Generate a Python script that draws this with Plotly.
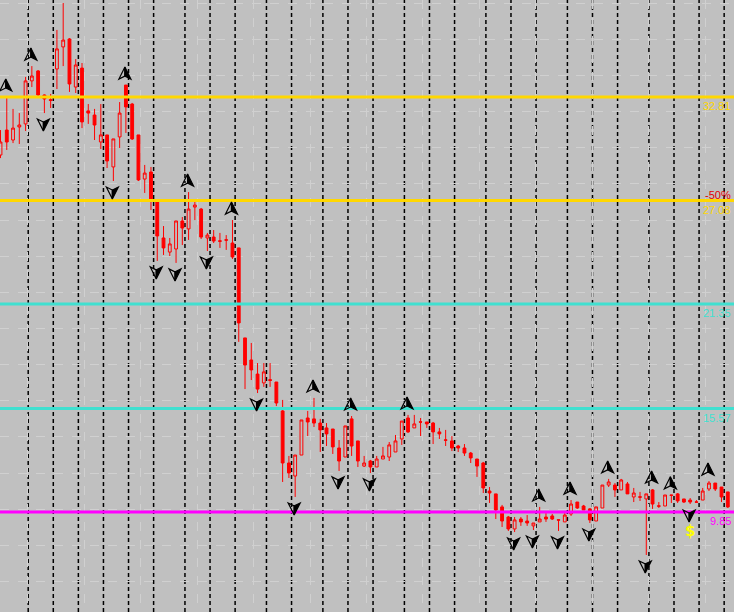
import plotly.graph_objects as go

# ---------------- data ----------------
bars = list(range(117))

opens = [29.60, 30.98, 30.43, 31.15, 31.32, 33.70, 34.25, 32.92, 32.66, 34.36,
         35.58, 36.02, 33.36, 34.41, 32.04, 31.81, 30.32, 30.71, 28.94, 30.60,
         33.47, 32.42, 30.71, 28.27, 28.66, 27.00, 25.01, 24.23, 24.40, 25.95,
         25.51, 26.72, 26.61, 25.01, 25.06, 24.85, 24.91, 24.73, 24.46, 19.48,
         18.26, 17.48, 16.99, 17.17, 17.04, 15.44, 12.56, 11.84, 13.00, 15.05,
         15.00, 14.77, 14.50, 14.44, 13.39, 12.89, 15.00, 13.78, 12.39, 12.67,
         12.34, 12.78, 12.89, 13.17, 13.89, 15.05, 14.50, 14.84, 14.83, 14.77,
         14.28, 13.84, 13.78, 13.50, 13.39, 13.11, 12.78, 12.56, 11.01, 10.85,
         10.13, 9.57, 8.91, 9.46, 9.35, 9.08, 9.30, 9.57, 9.63, 9.42,
         9.30, 9.74, 10.40, 10.18, 10.02, 9.35, 10.07, 11.34, 11.34, 11.07,
         11.40, 10.68, 10.69, 10.57, 11.07, 10.19, 10.18, 10.79, 10.85, 10.57,
         10.51, 10.41, 10.51, 11.12, 11.45, 11.23, 10.96]
highs = [30.98, 32.81, 32.15, 31.92, 33.92, 34.52, 34.30, 32.95, 32.98, 36.52,
         38.01, 36.07, 34.91, 34.69, 32.42, 32.15, 32.42, 30.71, 30.49, 32.53,
         33.47, 32.48, 30.71, 29.05, 28.94, 27.00, 25.67, 25.01, 25.95, 26.17,
         27.55, 27.00, 26.67, 25.29, 25.45, 25.29, 25.17, 26.00, 24.46, 19.48,
         19.20, 18.09, 18.09, 18.09, 17.04, 16.05, 12.95, 13.00, 14.94, 15.44,
         16.16, 15.00, 14.77, 14.44, 13.83, 14.61, 15.16, 13.78, 12.95, 12.73,
         12.95, 13.45, 13.72, 14.11, 14.88, 15.22, 15.22, 15.05, 14.83, 14.83,
         14.50, 14.39, 14.05, 13.56, 13.61, 13.17, 12.78, 12.62, 11.23, 10.85,
         10.24, 9.63, 9.57, 9.57, 9.68, 9.24, 10.13, 9.79, 9.74, 9.43,
         9.79, 10.51, 10.40, 10.24, 10.07, 10.13, 11.34, 11.68, 11.45, 11.68,
         11.51, 11.18, 10.96, 10.85, 11.12, 10.40, 10.79, 10.80, 10.90, 10.57,
         10.62, 10.51, 11.18, 11.56, 11.45, 11.23, 10.96]
lows = [29.43, 29.88, 30.26, 30.21, 30.93, 33.36, 32.81, 31.92, 32.20, 33.25,
        34.52, 33.09, 33.03, 31.09, 31.32, 30.43, 29.93, 28.88, 28.16, 29.99,
        30.82, 30.43, 28.16, 27.50, 26.56, 23.74, 24.07, 24.01, 23.63, 24.62,
        24.90, 26.00, 24.95, 24.29, 24.73, 24.46, 24.35, 23.85, 19.26, 16.65,
        17.15, 16.43, 16.77, 16.77, 15.71, 11.51, 11.73, 10.68, 13.00, 14.05,
        14.55, 13.17, 13.50, 13.06, 12.12, 12.89, 12.95, 12.34, 12.34, 12.01,
        12.34, 12.78, 12.67, 13.17, 13.56, 14.22, 14.50, 14.05, 14.50, 13.61,
        13.89, 13.50, 13.22, 13.17, 12.95, 12.56, 11.79, 10.90, 10.35, 9.46,
        9.02, 8.80, 8.74, 9.08, 9.08, 8.85, 9.30, 9.30, 9.41, 8.80,
        9.30, 9.63, 10.02, 9.96, 9.24, 9.35, 10.07, 11.23, 10.68, 11.07,
        10.85, 10.40, 10.46, 7.47, 10.02, 10.07, 10.18, 10.35, 10.35, 10.35,
        10.29, 10.35, 10.51, 11.01, 11.01, 10.40, 10.07]
closes = [30.32, 30.32, 31.09, 31.26, 33.70, 33.97, 32.92, 32.70, 32.62, 35.47,
          35.96, 33.53, 34.58, 31.43, 31.92, 31.26, 30.71, 29.27, 30.49, 31.92,
          32.26, 30.49, 28.22, 28.60, 27.11, 25.12, 24.46, 24.68, 25.95, 25.56,
          26.61, 26.83, 25.06, 25.17, 24.84, 24.83, 24.89, 23.96, 20.31, 17.98,
          17.71, 16.65, 17.60, 17.13, 15.88, 12.56, 12.01, 13.00, 14.94, 14.83,
          14.77, 14.39, 14.17, 13.45, 12.67, 14.61, 13.50, 12.67, 12.56, 12.34,
          12.78, 12.95, 13.56, 13.78, 14.88, 14.28, 14.72, 14.82, 14.72, 14.28,
          14.17, 13.82, 13.39, 13.39, 13.11, 12.84, 12.39, 11.18, 10.90, 9.96,
          9.35, 8.91, 9.41, 9.30, 9.24, 9.24, 9.46, 9.46, 9.46, 9.40,
          9.68, 10.29, 10.07, 9.96, 9.41, 10.13, 11.34, 11.51, 11.07, 11.62,
          10.85, 10.90, 10.67, 10.85, 10.29, 10.17, 10.79, 10.77, 10.46, 10.40,
          10.40, 10.39, 11.01, 11.45, 11.12, 10.68, 10.13]

up_fractal_bars = [1, 5, 20, 30, 37, 50, 56, 65, 86, 91, 97, 104, 107, 113]
down_fractal_bars = [7, 18, 25, 28, 33, 41, 47, 54, 59, 82, 85, 89, 94, 103, 110]

# bars after which a period separator is drawn
separator_bars = [4, 8, 12, 16, 20, 24, 29, 33, 37, 42, 46, 51, 55, 59, 64, 68,
                  72, 77, 81, 85, 90, 94, 98, 103, 107, 111, 115]

level_values = [32.81, 27.08, 21.35, 15.57, 9.85]
level_texts = ["32.81", "27.08", "21.35", "15.57", "9.85"]
fib_text = "-50%"
fib_level = 27.08
dollar_text = "$"
dollar_bar = 110
dollar_price = 8.80

# ---------------- style ----------------
W, H = 734, 612
BG = "#C0C0C0"
RED = "#FF0000"
level_colors = ["#FFD700", "#FFD700", "#40E0D0", "#40E0D0", "#FF00FF"]
LABEL_RIGHT_PX = 733
SEP_OFFSET = 0.42

fig = go.Figure()
fig.add_trace(go.Candlestick(
    x=bars, open=opens, high=highs, low=lows, close=closes,
    increasing=dict(line=dict(color=RED, width=1), fillcolor="rgba(0,0,0,0)"),
    decreasing=dict(line=dict(color=RED, width=1), fillcolor=RED),
    whiskerwidth=0, showlegend=False, hoverinfo="skip"))

shapes = []
for b in separator_bars:
    shapes.append(dict(type="line", xref="x", yref="paper", x0=b + SEP_OFFSET, x1=b + SEP_OFFSET,
                       y0=0, y1=1, line=dict(color="black", width=1.5, dash="4px,3px"),
                       layer="below"))
for v, c in zip(level_values, level_colors):
    shapes.append(dict(type="line", xref="paper", yref="y", x0=0, x1=1, y0=v, y1=v,
                       line=dict(color=c, width=3), layer="above"))

UP_L = "M -1 18 L -7 6 L -1 9 Z"
UP_R = "M -1 18 L -1 9 L 5 6 Z"
DN_L = "M -1 -18 L -7 -6 L -1 -9 Z"
DN_R = "M -1 -18 L -1 -9 L 5 -6 Z"
for b in up_fractal_bars:
    for p, fc in ((UP_L, "rgba(0,0,0,0)"), (UP_R, "black")):
        shapes.append(dict(type="path", xref="x", yref="y", xsizemode="pixel", ysizemode="pixel",
                           xanchor=b, yanchor=highs[b], path=p, fillcolor=fc,
                           line=dict(color="black", width=1.2), layer="above"))
for b in down_fractal_bars:
    for p, fc in ((DN_L, "rgba(0,0,0,0)"), (DN_R, "black")):
        shapes.append(dict(type="path", xref="x", yref="y", xsizemode="pixel", ysizemode="pixel",
                           xanchor=b, yanchor=lows[b], path=p, fillcolor=fc,
                           line=dict(color="black", width=1.2), layer="above"))

annotations = []
for v, t, c in zip(level_values, level_texts, level_colors):
    annotations.append(dict(x=LABEL_RIGHT_PX / W, xref="paper", y=v, yref="y", text=t,
                            showarrow=False, xanchor="right", yanchor="middle", yshift=-9,
                            font=dict(family="Liberation Sans, Arial", size=11, color=c)))
annotations.append(dict(x=LABEL_RIGHT_PX / W, xref="paper", y=fib_level, yref="y", text=fib_text,
                        showarrow=False, xanchor="right", yanchor="middle", yshift=6,
                        font=dict(family="Liberation Sans, Arial", size=11, color="#E00000")))
annotations.append(dict(x=dollar_bar, y=dollar_price, xref="x", yref="y",
                        text="<b>" + dollar_text + "</b>",
                        showarrow=False, xanchor="center", yanchor="middle",
                        font=dict(family="DejaVu Sans, Arial", size=15, color="#FFFF00")))

fig.update_layout(
    width=W, height=H, margin=dict(l=0, r=0, t=0, b=0),
    paper_bgcolor=BG, plot_bgcolor=BG, showlegend=False,
    shapes=shapes, annotations=annotations,
    xaxis=dict(range=[-0.08, 116.99], showgrid=True, gridcolor="#D0D0D0", griddash="dash",
               gridwidth=1, tick0=13.37, dtick=9, showticklabels=False, zeroline=False,
               showline=False, ticks="", rangeslider=dict(visible=False), fixedrange=True),
    yaxis=dict(range=[4.316, 38.176], showgrid=True, gridcolor="#D0D0D0", griddash="dash",
               gridwidth=1, tick0=0, dtick=2, showticklabels=False, zeroline=False,
               showline=False, ticks="", fixedrange=True),
    boxgap=0.55, boxgroupgap=0,
)

fig.write_html("out.html", config={"displayModeBar": False},
               post_script="document.body.style.margin='0';document.body.style.overflow='hidden';")
